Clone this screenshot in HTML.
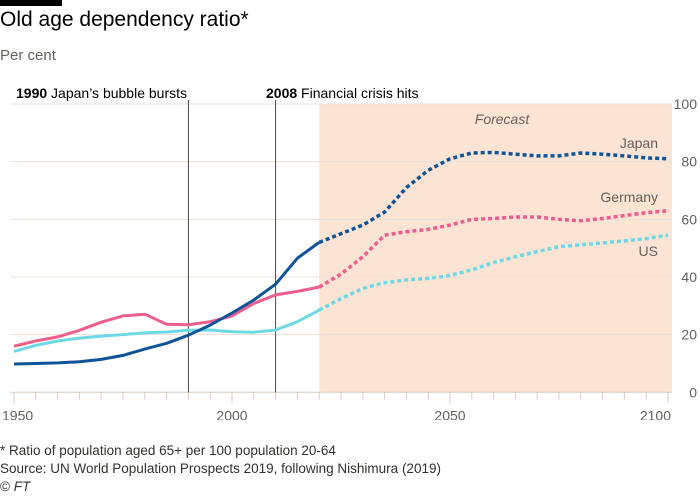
<!DOCTYPE html>
<html><head><meta charset="utf-8"><style>
body{margin:0;background:#fff;width:700px;height:500px;overflow:hidden;font-family:"Liberation Sans",sans-serif;color:#33302e;position:relative}
.t{position:absolute;white-space:nowrap}
</style></head><body>
<div style="position:absolute;left:0;top:0;width:62px;height:6px;background:#000"></div>
<div class="t" style="left:0;top:8px;font-size:21px;color:#000">Old age dependency ratio*</div>
<div class="t" style="left:0;top:47px;font-size:15px;color:#66605c">Per cent</div>
<svg id="c" width="700" height="420" style="position:absolute;left:0;top:0"></svg>
<div class="t" style="left:0;top:443px;font-size:13.5px;color:#33302e">* Ratio of population aged 65+ per 100 population 20-64</div>
<div class="t" style="left:0;top:461px;font-size:13.5px;color:#33302e">Source: UN World Population Prospects 2019, following Nishimura (2019)</div>
<div class="t" style="left:0;top:479px;font-size:13.5px;color:#33302e">© <i>FT</i></div>
<script>
const years=[1950,1955,1960,1965,1970,1975,1980,1985,1990,1995,2000,2005,2010,2015,2020,2025,2030,2035,2040,2045,2050,2055,2060,2065,2070,2075,2080,2085,2090,2095,2100];
const japan=[9.8,10,10.2,10.6,11.4,12.8,15,17,19.8,23.3,27.5,32,37.5,46.5,52,55,58,62.5,71,77,81,83,83.2,82.6,82,82,83,82.6,82,81.3,81];
const germany=[16,17.8,19.2,21.5,24.3,26.5,27.1,23.6,23.4,24.5,26.5,30.8,33.8,35,36.5,41,47,54.5,55.7,56.5,58,60,60.3,60.8,60.8,60,59.5,60.3,61.3,62.3,63];
const us=[14.2,16.3,17.8,18.8,19.5,20,20.6,20.9,21.5,21.6,21,20.8,21.6,24.5,28.5,32.5,36,38,39,39.5,40.5,42.5,45,47,48.8,50.5,51.2,51.8,52.5,53.3,54.5];
const yTicks=[0,20,40,60,80,100];
const xLabels=[1950,2000,2050,2100];
const forecastStart=2020;
const x=v=>14+(v-1950)*(654/150);
const y=v=>392.3-v*2.883;
const svg=document.getElementById('c');const NS='http://www.w3.org/2000/svg';
function mk(tag,a,txt){const e=document.createElementNS(NS,tag);for(const k in a)e.setAttribute(k,a[k]);if(txt!=null)e.textContent=txt;svg.appendChild(e);return e;}
let r=mk('rect',{x:x(forecastStart),y:y(100),width:x(2100)+4-x(forecastStart),height:y(0)-y(100),fill:'#fbe4d3'});


yTicks.forEach(v=>{
 let l=mk('line',{x1:10,x2:672,y1:y(v),y2:y(v),stroke:v==0?'#d6cbc2':'#ebe0d7','stroke-width':1});
 
 
 let t=mk('text',{x:697,y:y(v)+5,'text-anchor':'end','font-size':14,fill:'#66605c'},v);
 
 
});
for(let yr=1950;yr<=2100;yr+=5){
 let l=mk('line',{x1:x(yr),x2:x(yr),y1:y(0),y2:y(0)+((yr%50==0)?11:7),stroke:'#d6cbc2','stroke-width':1});
 
 
}
xLabels.forEach(v=>{
 let t=mk('text',{x:x(v),y:y(0)+28,'text-anchor':v==2100?'end':(v==1950?'start':'middle'),'font-size':14,fill:'#66605c'},v);
 if(v==1950)t.setAttribute('x',x(v)-12);
 if(v==2100)t.setAttribute('x',x(v)+3);
 
 
});
[[1990,'1990',' Japan’s bubble bursts',16],[2010,'2008',' Financial crisis hits',266]].forEach(a=>{
 let l=mk('line',{x1:x(a[0]),x2:x(a[0]),y1:100,y2:y(0),stroke:'#4d4845','stroke-width':1});
 
 
 let t=mk('text',{x:a[3],y:98,'font-size':14,fill:'#000'});
 
 
 const b=document.createElementNS(NS,'tspan');b.setAttribute('font-weight','bold');b.textContent=a[1];t.appendChild(b);
 const s=document.createElementNS(NS,'tspan');s.textContent=a[2];t.appendChild(s);
});
let ft=mk('text',{x:502,y:124,'text-anchor':'middle','font-size':14,'font-style':'italic',fill:'#66605c'},'Forecast');


function series(name,vals,color){
 const hist=[],fc=[];
 years.forEach((yr,i)=>{const p=x(yr).toFixed(1)+','+y(vals[i]).toFixed(1);if(yr<=forecastStart)hist.push(p);if(yr>=forecastStart)fc.push(p);});
 let a=mk('polyline',{points:hist.join(' '),fill:'none',stroke:color,'stroke-width':3,'stroke-linejoin':'round'});
 
 
 let b=mk('polyline',{points:fc.join(' '),fill:'none',stroke:color,'stroke-width':3.5,'stroke-dasharray':'4 3','stroke-linejoin':'round'});
 
 
}
series('us',us,'#6dd9e5');
series('germany',germany,'#ec5e8e');
series('japan',japan,'#0f5499');
[['Japan',148],['Germany',202],['US',256]].forEach(a=>{
 let t=mk('text',{x:658,y:a[1],'text-anchor':'end','font-size':14,fill:'#66605c'},a[0]);
 
 
});
</script>
</body></html>
